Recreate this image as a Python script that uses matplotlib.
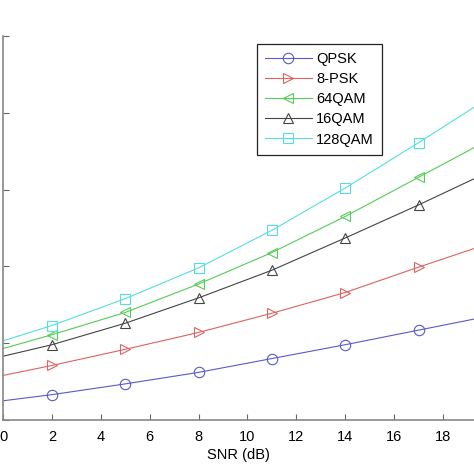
import matplotlib.pyplot as plt
import numpy as np

plt.rcParams['font.family'] = ['Liberation Sans', 'DejaVu Sans']

# SNR points (markers drawn at 2..17)
snr = [0, 2, 5, 8, 11, 14, 17, 20]

qpsk = [0.25, 0.33, 0.47, 0.62, 0.80, 0.98, 1.17, 1.36]
psk8 = [0.58, 0.71, 0.92, 1.14, 1.39, 1.66, 1.99, 2.31]
qam64 = [0.93, 1.11, 1.40, 1.77, 2.18, 2.65, 3.16, 3.67]
qam16 = [0.83, 0.98, 1.26, 1.59, 1.95, 2.37, 2.80, 3.25]
qam128 = [1.03, 1.23, 1.58, 1.98, 2.47, 3.02, 3.61, 4.22]

labels = ['QPSK', '8-PSK', '64QAM', '16QAM', '128QAM']
series = [qpsk, psk8, qam64, qam16, qam128]
colors = ['#5a5ac8', '#dd6262', '#55cc55', '#444444', '#55dede']
markers = ['o', '>', '<', '^', 's']

fig = plt.figure(figsize=(4.74, 4.74), dpi=100)
ax = fig.add_axes([3/474, 54/474, 1 - 3/474, 384/474])

for vals, lab, c, m in zip(series, labels, colors, markers):
    ax.plot(snr, vals, color=c, marker=m, markevery=[1, 2, 3, 4, 5, 6],
            markerfacecolor='none', markeredgecolor=c, markersize=7.5,
            markeredgewidth=0.8, linewidth=0.8, label=lab)

ax.set_xlim(0, 19.27)
ax.set_ylim(0, 5)
ax.set_xticks(np.arange(0, 19, 2))
ax.set_yticks(np.arange(0, 6, 1))
ax.tick_params(direction='in', length=4, color='#666666', labelleft=False,
               labelsize=10.5, pad=7)
for s in ['top', 'right']:
    ax.spines[s].set_visible(False)
for s in ['left', 'bottom']:
    ax.spines[s].set_color('#888888')
    ax.spines[s].set_linewidth(1.2)

ax.set_xlabel('SNR (dB)', fontsize=10.5, labelpad=3)

leg = ax.legend(loc='upper left', bbox_to_anchor=(257/474, 1 - 44/474),
                bbox_transform=fig.transFigure, borderaxespad=0,
                fontsize=10.5, handlelength=3.2, fancybox=False,
                framealpha=1, labelspacing=0.42, handletextpad=0.3,
                borderpad=0.55)
leg.get_frame().set_edgecolor('#222222')
leg.get_frame().set_linewidth(0.9)

plt.savefig('out.png', dpi=100)
